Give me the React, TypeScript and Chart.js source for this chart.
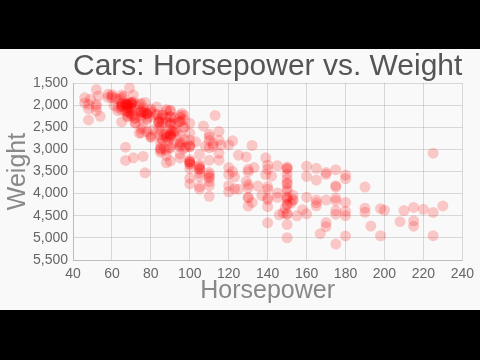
import { useEffect, useRef } from "react";
import { Chart, registerables } from "chart.js";

Chart.register(...registerables);

const chartTitle = "Cars: Horsepower vs. Weight";
const xAxisTitle = "Horsepower";
const yAxisTitle = "Weight";

const xTicks = { min: 40, max: 240, step: 20 };
const yTicks = { min: 1500, max: 5500, step: 500 };

const horsepower = [
  46, 46, 48, 48, 48, 49, 52, 52, 52, 52,
  53, 54, 58, 58, 60, 60, 60, 61, 62, 63,
  63, 64, 65, 65, 65, 65, 65, 65, 65, 65,
  65, 66, 67, 67, 67, 67, 67, 67, 68, 68,
  68, 68, 68, 68, 68, 68, 68, 68, 69, 69,
  69, 70, 70, 70, 70, 70, 70, 70, 70, 70,
  71, 71, 71, 71, 72, 72, 72, 72, 72, 74,
  74, 75, 75, 75, 75, 75, 75, 75, 75, 75,
  76, 76, 76, 76, 77, 77, 77, 78, 78, 78,
  78, 78, 78, 79, 80, 80, 80, 80, 80, 80,
  81, 83, 83, 83, 84, 84, 84, 84, 84, 85,
  85, 85, 85, 85, 85, 85, 85, 85, 85, 86,
  86, 86, 86, 87, 87, 88, 88, 88, 88, 88,
  88, 88, 88, 88, 88, 89, 90, 90, 90, 90,
  90, 90, 90, 90, 90, 90, 90, 90, 90, 90,
  90, 90, 91, 92, 92, 92, 92, 92, 93, 94,
  95, 95, 95, 95, 95, 95, 95, 95, 95, 95,
  95, 96, 97, 97, 97, 97, 97, 97, 98, 100,
  100, 100, 100, 100, 100, 100, 100, 100, 100, 100,
  100, 100, 100, 100, 103, 105, 105, 105, 105, 105,
  105, 105, 105, 105, 105, 107, 108, 110, 110, 110,
  110, 110, 110, 110, 110, 110, 110, 110, 110, 112,
  112, 113, 115, 115, 115, 115, 116, 120, 120, 120,
  120, 120, 122, 122, 123, 123, 125, 125, 129, 129,
  130, 130, 130, 130, 130, 130, 130, 132, 132, 133,
  135, 137, 139, 139, 140, 140, 140, 140, 140, 140,
  140, 140, 142, 145, 145, 145, 146, 148, 149, 150,
  150, 150, 150, 150, 150, 150, 150, 150, 150, 150,
  150, 150, 150, 150, 150, 150, 150, 152, 153, 153,
  153, 155, 158, 160, 160, 160, 160, 165, 165, 165,
  165, 165, 167, 170, 170, 170, 170, 170, 175, 175,
  175, 175, 175, 175, 175, 175, 180, 180, 180, 180,
  180, 180, 190, 190, 190, 193, 198, 198, 200, 208,
  210, 215, 215, 215, 220, 225, 225, 225, 230,
];

const weight = [
  1835, 1950, 1985, 2085, 2335, 1867, 1649, 2130, 2035, 1985,
  1795, 2254, 1755, 1825, 1834, 1760, 1800, 2003, 1845, 2051,
  2125, 1875, 1773, 1836, 1975, 2020, 2019, 2380, 2045, 1950,
  2110, 1800, 1965, 1995, 2145, 1985, 2950, 3250, 1985, 2045,
  2135, 2155, 2245, 2065, 1970, 1990, 2000, 2265, 1613, 2189,
  1963, 2074, 1955, 1990, 2245, 1945, 2070, 2120, 1937, 2190,
  1925, 1773, 2223, 3190, 2408, 2401, 2310, 2290, 1990, 2635,
  1980, 2158, 2108, 1955, 2230, 2171, 2155, 2300, 2625, 2542,
  2065, 2511, 2144, 3160, 2164, 1940, 3530, 2300, 2190, 2200,
  2330, 2188, 2600, 2255, 2126, 2164, 2085, 2670, 2720, 2725,
  2560, 2219, 2045, 2202, 2370, 2525, 2295, 2380, 2385, 2587,
  2310, 2855, 2670, 3015, 2990, 2965, 2745, 2465, 3070, 2220,
  2226, 2395, 2790, 2672, 2979, 2130, 3302, 3139, 2279, 2100,
  3021, 2640, 2395, 2720, 2740, 2800, 2123, 2264, 2408, 2648,
  2430, 2124, 2265, 2950, 2678, 2670, 2735, 2380, 2560, 2965,
  3265, 2711, 2582, 2288, 2434, 2620, 2585, 2865, 2600, 2379,
  2372, 2833, 2375, 2228, 2278, 2904, 3102, 2694, 3193, 2945,
  2875, 2189, 2774, 2330, 2506, 2984, 2489, 2234, 2945, 2634,
  3329, 3288, 3282, 2789, 2945, 3278, 2901, 3336, 3233, 3651,
  2930, 2410, 3430, 3781, 2830, 3439, 3121, 3897, 3459, 3353,
  3613, 3380, 3535, 3425, 3840, 2472, 2930, 2962, 2660, 3730,
  3620, 3520, 3570, 3245, 2720, 2800, 3820, 4060, 3645, 2933,
  2868, 2234, 3090, 2795, 2595, 3245, 2900, 3820, 3565, 3410,
  2900, 3960, 2807, 3500, 3620, 3890, 3900, 3130, 3725, 3170,
  3504, 4098, 3870, 3450, 4080, 4280, 3800, 2910, 4200, 3410,
  3830, 4042, 3570, 3190, 3449, 3353, 4294, 4141, 3840, 3900,
  4100, 4660, 3605, 3988, 4082, 3370, 4480, 4440, 4335, 3436,
  3433, 3761, 4096, 4135, 3672, 3892, 4077, 3777, 4464, 4237,
  4997, 3399, 4699, 4457, 3940, 4250, 3560, 4215, 4034, 4154,
  4129, 4502, 4363, 3609, 4456, 4080, 3380, 3693, 4142, 4209,
  4274, 3429, 4906, 3563, 4746, 4654, 3520, 4145, 4166, 3850,
  4464, 4385, 4100, 3821, 5140, 3460, 4955, 4499, 3664, 4200,
  4400, 3580, 3850, 4422, 4330, 4732, 4341, 4952, 4376, 4633,
  4382, 4312, 4615, 4735, 4354, 4425, 3086, 4951, 4278,
];

const FONT = "'Liberation Sans', Arial, Helvetica, sans-serif";
const GRID = "rgba(0,0,0,0.13)";

export default function App() {
  const ref = useRef<HTMLCanvasElement>(null);

  useEffect(() => {
    document.body.style.margin = "0";
    Chart.defaults.font.family = FONT;
    const points = horsepower.map((h, i) => ({ x: h, y: weight[i] }));
    const chart = new Chart(ref.current as HTMLCanvasElement, {
      type: "scatter",
      data: {
        datasets: [
          {
            data: points,
            backgroundColor: "rgba(255,0,0,0.2)",
            borderWidth: 0,
            pointRadius: 5.5,
            pointHoverRadius: 5.5,
          },
        ],
      },
      options: {
        animation: false,
        responsive: false,
        layout: { padding: { left: 0, right: 17, top: 0, bottom: 4 } },
        plugins: {
          legend: { display: false },
          tooltip: { enabled: false },
          title: {
            display: true,
            text: chartTitle,
            fullSize: false,
            color: "#555555",
            font: { size: 30, weight: "normal", lineHeight: 1.1 },
            padding: { top: 1, bottom: 0 },
          },
        },
        scales: {
          x: {
            type: "linear",
            position: "bottom",
            min: xTicks.min,
            max: xTicks.max,
            afterFit: (s: any) => {
              s.height = 46;
            },
            ticks: {
              stepSize: xTicks.step,
              color: "#666666",
              font: { size: 14 },
              padding: 6,
              callback: (v: any) => Number(v).toLocaleString("en-US"),
            },
            grid: { color: GRID, drawTicks: false },
            border: { color: GRID },
            title: {
              display: true,
              text: xAxisTitle,
              color: "#888888",
              font: { size: 25, lineHeight: 1.2 },
              padding: { top: 0, bottom: 0 },
            },
          },
          y: {
            type: "linear",
            reverse: true,
            min: yTicks.min,
            max: yTicks.max,
            afterFit: (s: any) => {
              s.width = 73;
            },
            ticks: {
              stepSize: yTicks.step,
              color: "#666666",
              font: { size: 14 },
              padding: 5,
              callback: (v: any) => Number(v).toLocaleString("en-US"),
            },
            grid: { color: GRID, drawTicks: false },
            border: { color: GRID },
            title: {
              display: true,
              text: yAxisTitle,
              color: "#888888",
              font: { size: 25, lineHeight: 1.2 },
              padding: { top: 3, bottom: 0 },
            },
          },
        },
      },
    });
    return () => chart.destroy();
  }, []);

  return (
    <div style={{ position: "fixed", inset: 0, background: "#000" }}>
      <div
        style={{
          position: "absolute",
          left: 0,
          top: 49,
          width: 480,
          height: 261,
          background: "#f9f9f9",
        }}
      >
        <canvas ref={ref} width={480} height={261} style={{ display: "block" }} />
      </div>
    </div>
  );
}
